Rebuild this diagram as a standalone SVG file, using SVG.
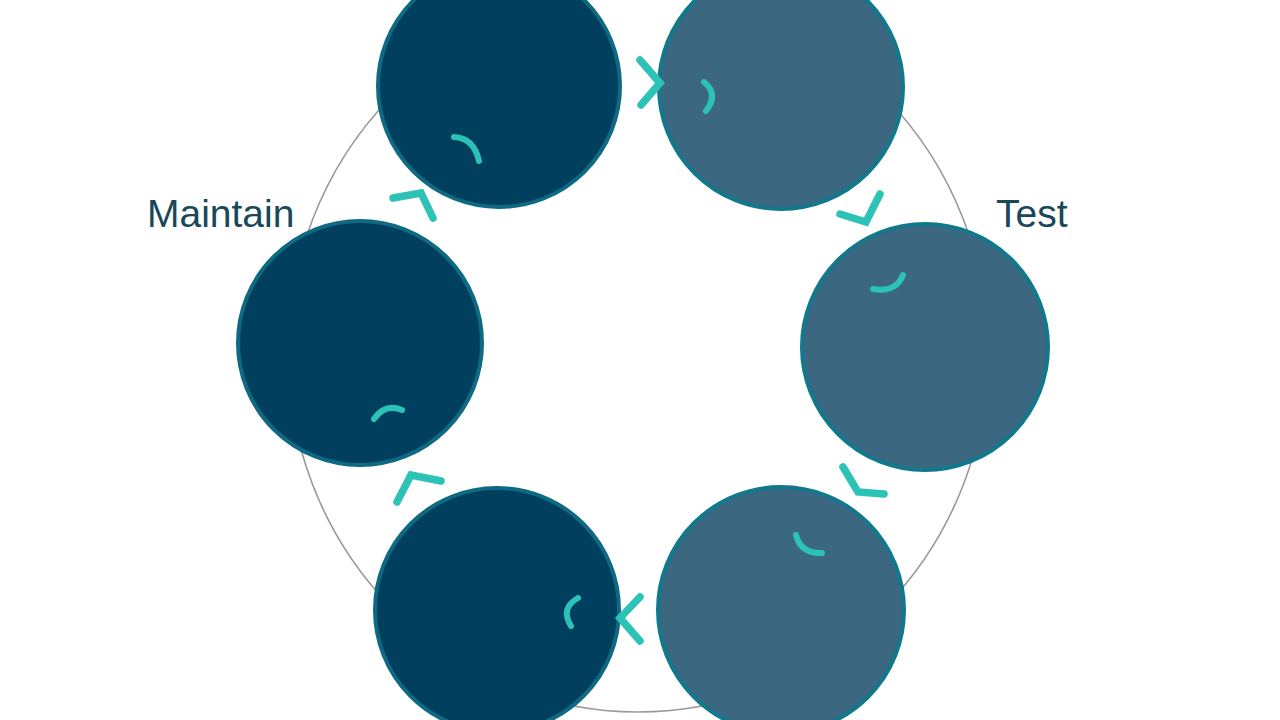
<svg xmlns="http://www.w3.org/2000/svg" width="1280" height="720" viewBox="0 0 1280 720">
<style>
.ring{fill:none;stroke:#9a9a9a;stroke-width:1.6}
.dark{fill:#013f5e;stroke:#0d6a82;stroke-width:4}
.light{fill:#3b6880;stroke:#12788b;stroke-width:4}
.chev{fill:none;stroke:#2cc2b6;stroke-width:7.5;stroke-linecap:round;stroke-linejoin:miter}
.arc{fill:none;stroke:#2cc2b6;stroke-width:6;stroke-linecap:round;stroke-linejoin:round}
.lbl{font-family:"Liberation Sans",Arial,sans-serif;font-size:39px;fill:#18485a}
</style>
<rect width="1280" height="720" fill="#ffffff"/>
<ellipse class="ring" cx="638" cy="352" rx="350" ry="360"/>
<g id="node-top-left"><circle class="dark" cx="499" cy="86" r="121"/></g>
<g id="node-top-right"><circle class="light" cx="781" cy="87" r="122"/></g>
<g id="node-right"><circle class="light" cx="925" cy="347" r="123"/></g>
<g id="node-bottom-right"><circle class="light" cx="781" cy="610" r="123"/></g>
<g id="node-bottom-left"><circle class="dark" cx="497" cy="610" r="122"/></g>
<g id="node-left"><circle class="dark" cx="360" cy="343" r="122"/></g>
<g id="label-maintain"><text class="lbl" x="147" y="227">Maintain</text></g>
<g id="label-test"><text class="lbl" x="996" y="227">Test</text></g>
<g id="connectors">
<polyline class="chev" points="640,60 660,83 641,105"/>
<path class="arc" d="M704,82 Q719,94 706,111"/>
<polyline class="chev" points="840,214 866,222 880,194"/>
<path class="arc" d="M873,289 Q896,293 903,275"/>
<polyline class="chev" points="843,467 858,492 884,494"/>
<path class="arc" d="M796,535 Q801,554 822,553"/>
<polyline class="chev" points="640,597 620,618 640,641"/>
<path class="arc" d="M578,598 Q560,608 571,626"/>
<polyline class="chev" points="397,502 411,475 441,481"/>
<path class="arc" d="M374,419 Q385,403 402,410"/>
<polyline class="chev" points="393,198 421,193 433,218"/>
<path class="arc" d="M454,137 Q474,138 479,161"/>
</g>
</svg>
